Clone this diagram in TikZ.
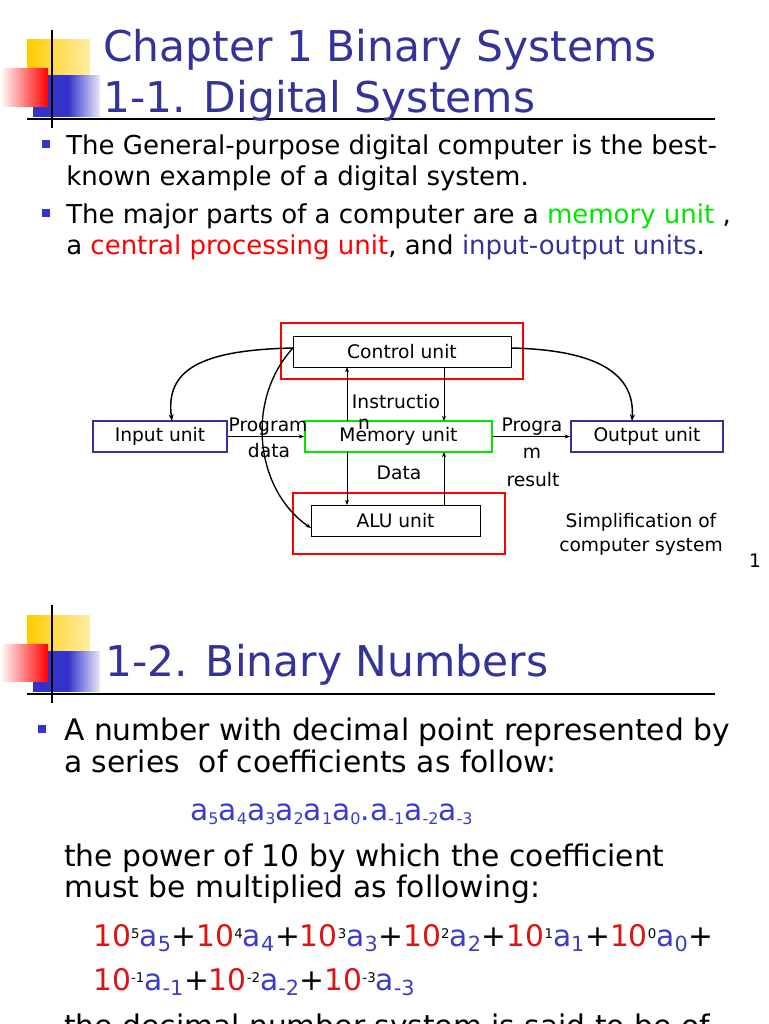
\documentclass[tikz,border=0pt]{standalone}
\usepackage{fontspec}
\setmainfont{DejaVu Sans}
\usetikzlibrary{arrows.meta}
\definecolor{tblue}{RGB}{51,51,153}
\definecolor{fblue}{RGB}{60,60,200}
\definecolor{fred}{RGB}{220,20,20}
\definecolor{mgreen}{RGB}{0,230,0}
\definecolor{logoyel}{RGB}{255,204,0}
\definecolor{logoblue}{RGB}{51,51,204}
\newcommand{\logo}[1]{%
 \begin{scope}[yshift=#1]
 \shade[left color=logoyel,right color=logoyel!35] (27,40) rectangle (90,77);
 \shade[left color=logoblue,right color=logoblue] (33,76) rectangle (68,116);
 \shade[left color=logoblue,right color=logoblue!10] (68,76) rectangle (100,116);
 \shade[left color=white,right color=red] (0,69) rectangle (48,106);
 \draw[line width=1.2pt] (52,30) -- (52,128);
 \draw[line width=1pt] (27,119) -- (715,119);
 \end{scope}}
\newcommand{\fa}[1]{\textcolor{fblue}{a\textsubscript{#1}}}
\newcommand{\fs}[1]{\textcolor{fblue}{a{\fontsize{12pt}{12pt}\selectfont\raisebox{-0.25em}{#1}}}}
\newcommand{\ften}[1]{\textcolor{fred}{10}{\fontsize{10pt}{10pt}\selectfont\raisebox{0.55em}{#1}}}
\begin{document}
\begin{tikzpicture}[x=0.75pt,y=-0.75pt,
 dfont/.style={font=\fontsize{14pt}{16pt}\selectfont},
 box/.style={draw,line width=0.6pt,minimum height=23.25pt,dfont},
 ubox/.style={draw=tblue,line width=1.6pt,minimum height=23.25pt,dfont},
 redframe/.style={draw=red,line width=1.8pt},
 lbl/.style={dfont,anchor=base},
 arr/.style={-{Stealth[length=4pt]},line width=0.5pt},
 carr/.style={-{Stealth[length=5pt]},line width=1.1pt},
 bul/.style={fill=logoblue,minimum size=6pt,inner sep=0pt},
 body/.style={anchor=base west,inner sep=0pt,font=\fontsize{19.5pt}{23pt}\selectfont},
 bodyb/.style={anchor=base west,inner sep=0pt,font=\fontsize{22.3pt}{26pt}\selectfont},
 ttl/.style={anchor=base west,inner sep=0pt,text=tblue,font=\fontsize{31.8pt}{36pt}\selectfont}]
\useasboundingbox[fill=white] (0,0) rectangle (768,1024);
\logo{0}
\logo{-431.25pt}
\node[ttl] (t1) at (103,62) {Chapter 1 Binary Systems};
\node[ttl] (t2) at (103,113) {1-1. Digital Systems};
\node[bul] (b1) at (46,144) {};
\node[body] (l1) at (66,154) {The General-purpose digital computer is the best-};
\node[body] (l2) at (66,185) {known example of a digital system.};
\node[bul] (b2) at (46,213) {};
\node[body] (l3) at (66,223) {The major parts of a computer are a \textcolor{mgreen}{memory unit} ,};
\node[body] (l4) at (66,254) {a \textcolor{red}{central processing unit}, and \textcolor{tblue}{input-output units}.};
% diagram
\draw[redframe] (281,323) rectangle (523,379);
\draw[redframe] (293,493) rectangle (505,554);
\node[box,minimum width=163.5pt] (cu) at (402,352) {Control unit};
\node[box,minimum width=126.75pt] (alu) at (395.5,520.5) {ALU unit};
\node[ubox,minimum width=100.5pt] (in) at (160,436.5) {Input unit};
\node[ubox,minimum width=114pt] (out) at (647,436.5) {Output unit};
\node[draw=mgreen,line width=1.6pt,minimum height=23.25pt,minimum width=140pt,dfont] (mem) at (398.5,436.5) {Memory unit};
\draw[arr] (347,421) -- (347,367);
\draw[arr] (444,367) -- (444,421);
\draw[arr] (347,452) -- (347,505);
\draw[arr] (444,505) -- (444,452);
\draw[arr] (in.east) -- (mem.west);
\draw[arr] (mem.east) -- (out.west);
\coordinate (cl) at (293,348);
\coordinate (cr) at (511,348);
\draw[carr] (cl) .. controls (200,350) and (165,370) .. (172,421);
\draw[carr] (cr) .. controls (600,350) and (635,375) .. (632,421);
\draw[arr,line width=1pt] (cl) .. controls (245,400) and (255,490) .. (311,528);
\node[lbl] (i1) at (396,408) {Instructio};
\node[lbl] (i2) at (364,429) {n};
\node[lbl] (p1) at (268,431) {Program};
\node[lbl] (p2) at (269,457) {data};
\node[lbl] (q1) at (532,431) {Progra};
\node[lbl] (q2) at (532,458) {m};
\node[lbl] (q3) at (533,486) {result};
\node[lbl] (d) at (399,479) {Data};
\node[lbl] (s1) at (641,527) {Simplification of};
\node[lbl] (s2) at (641,551) {computer system};
\node[lbl] (pg) at (755,567) {1};
% slide 2
\node[ttl] (t3) at (105,676) {1-2. Binary Numbers};
\node[bul] (b3) at (42,729) {};
\node[bodyb] (m1) at (64,740) {A number with decimal point represented by};
\node[bodyb] (m2) at (64,772) {a series\ \ of coefficients as follow:};
\node[bodyb] (m3) at (190,820) {\fs{5}\fs{4}\fs{3}\fs{2}\fs{1}\fs{0}\textcolor{fblue}{.}\fs{-1}\fs{-2}\fs{-3}};
\node[bodyb] (m4) at (64,866) {the power of 10 by which the coefficient};
\node[bodyb] (m5) at (64,897) {must be multiplied as following:};
\node[bodyb] (m6) at (93,946) {\ften{5}\fa{5}+\ften{4}\fa{4}+\ften{3}\fa{3}+\ften{2}\fa{2}+\ften{1}\fa{1}+\ften{0}\fa{0}+};
\node[bodyb] (m7) at (93,990) {\ften{-1}\fa{-1}+\ften{-2}\fa{-2}+\ften{-3}\fa{-3}};
\begin{scope}
\clip (0,0) rectangle (768,1024);
\node[bodyb] (m8) at (64,1036) {the decimal number system is said to be of};
\end{scope}
\end{tikzpicture}
\end{document}
